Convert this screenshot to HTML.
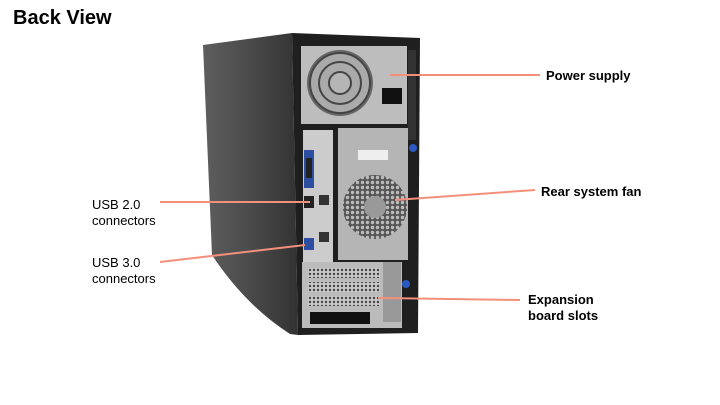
<!DOCTYPE html>
<html><head><style>
body{margin:0;width:720px;height:405px;background:#fff;overflow:hidden;font-family:"Liberation Sans",Arial,sans-serif}
.t{position:absolute;font-size:13px;color:#000;line-height:16px}
.b{font-weight:bold}
</style></head><body>
<div style="position:absolute;left:13px;top:7px;font-size:20px;font-weight:bold">Back View</div>
<svg width="720" height="405" style="position:absolute;left:0;top:0">
<defs>
<linearGradient id="side" x1="0" x2="1" y1="0" y2="0"><stop offset="0" stop-color="#5e5e5e"/><stop offset="0.5" stop-color="#4a4a4a"/><stop offset="1" stop-color="#333"/></linearGradient>
<pattern id="hex" width="5" height="5" patternUnits="userSpaceOnUse"><rect width="5" height="5" fill="#555"/><circle cx="2.5" cy="2.5" r="1.7" fill="#bbb"/></pattern>
<pattern id="slot" width="4" height="4" patternUnits="userSpaceOnUse"><rect width="4" height="4" fill="#c8c8c8"/><circle cx="2" cy="2" r="1.2" fill="#444"/></pattern>
</defs>
<path d="M203,45 L292,33 L298,335 L290,334 Q245,305 212,255 Z" fill="url(#side)"/>
<path d="M292,33 L420,38 L418,333 L298,335 Z" fill="#1f1f1f"/>
<rect x="301" y="46" width="106" height="78" fill="#bdbdbd"/>
<circle cx="340" cy="83" r="33" fill="#666"/>
<circle cx="340" cy="83" r="30" fill="#aaa" stroke="#444" stroke-width="2"/>
<circle cx="340" cy="83" r="21" fill="none" stroke="#444" stroke-width="2"/>
<circle cx="340" cy="83" r="11" fill="#b5b5b5" stroke="#444" stroke-width="2"/>
<rect x="382" y="88" width="20" height="16" fill="#111"/>
<rect x="408" y="50" width="8" height="90" fill="#333"/>
<rect x="303" y="130" width="30" height="132" fill="#ccc"/>
<rect x="304" y="150" width="10" height="38" fill="#2b4ea0"/>
<rect x="306" y="158" width="6" height="20" fill="#222"/>
<rect x="304" y="196" width="10" height="12" fill="#222"/>
<rect x="304" y="238" width="10" height="12" fill="#2b4ea0"/>
<rect x="319" y="195" width="10" height="10" fill="#333"/>
<rect x="319" y="232" width="10" height="10" fill="#333"/>
<rect x="338" y="128" width="70" height="132" fill="#b5b5b5"/>
<rect x="358" y="150" width="30" height="10" fill="#eee"/>
<circle cx="375" cy="207" r="32" fill="url(#hex)"/>
<circle cx="375" cy="207" r="11" fill="#999"/>
<circle cx="413" cy="148" r="4" fill="#2b5ac0"/>
<circle cx="406" cy="284" r="4" fill="#2b5ac0"/>
<rect x="302" y="262" width="100" height="66" fill="#bbb"/>
<rect x="308" y="268" width="72" height="10" fill="url(#slot)"/>
<rect x="308" y="282" width="72" height="10" fill="url(#slot)"/>
<rect x="308" y="296" width="72" height="10" fill="url(#slot)"/>
<rect x="310" y="312" width="60" height="12" fill="#111"/>
<rect x="383" y="262" width="18" height="60" fill="#999"/>
<g stroke="#f4907a" stroke-width="2">
<line x1="390" y1="75" x2="540" y2="75"/>
<line x1="395" y1="200" x2="535" y2="190"/>
<line x1="378" y1="298" x2="520" y2="300"/>
<line x1="160" y1="202" x2="310" y2="202"/>
<line x1="160" y1="262" x2="305" y2="245"/>
</g>
</svg>
<div class="t b" style="left:546px;top:68px">Power supply</div>
<div class="t b" style="left:541px;top:184px">Rear system fan</div>
<div class="t b" style="left:528px;top:292px">Expansion<br>board slots</div>
<div class="t" style="left:92px;top:197px">USB 2.0<br>connectors</div>
<div class="t" style="left:92px;top:255px">USB 3.0<br>connectors</div>
</body></html>
